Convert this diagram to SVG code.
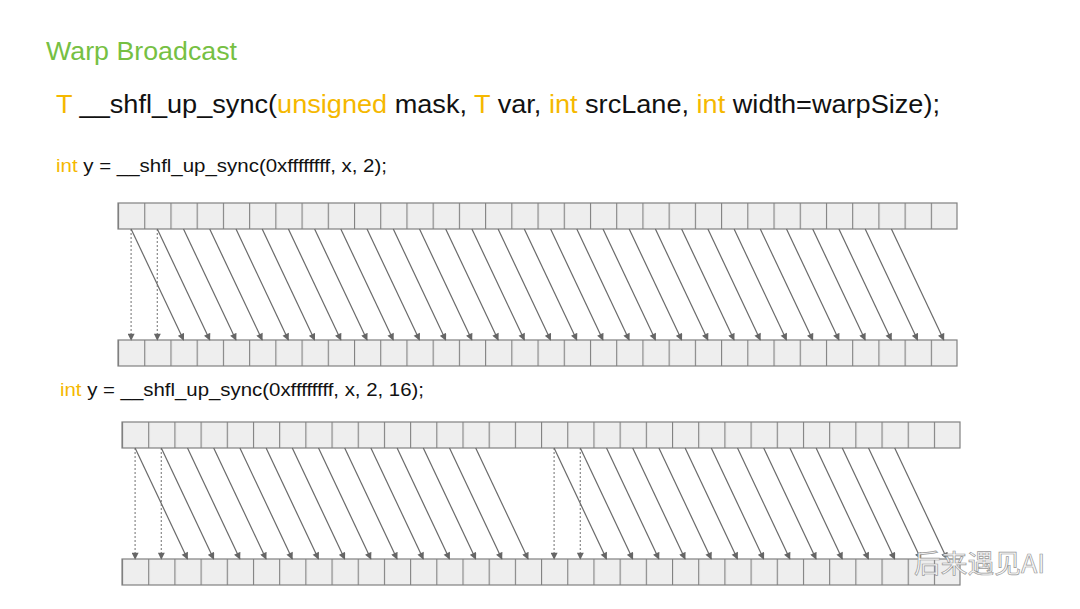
<svg xmlns="http://www.w3.org/2000/svg" width="1080" height="609" viewBox="0 0 1080 609">
<defs>
<marker id="ah" viewBox="0 0 10 10" refX="9" refY="5" markerWidth="8" markerHeight="7" markerUnits="userSpaceOnUse" orient="auto"><path d="M0,0 L10,5 L0,10 z" fill="#666"/></marker>
<pattern id="cellsA" x="118" y="0" width="26.22" height="609" patternUnits="userSpaceOnUse"><rect x="0" y="0" width="26.22" height="609" fill="#eeeeee"/><line x1="0.5" y1="0" x2="0.5" y2="609" stroke="#808080" stroke-width="1.2"/></pattern>
<pattern id="cellsB" x="122" y="0" width="26.19" height="609" patternUnits="userSpaceOnUse"><rect x="0" y="0" width="26.19" height="609" fill="#eeeeee"/><line x1="0.5" y1="0" x2="0.5" y2="609" stroke="#808080" stroke-width="1.2"/></pattern>
</defs>
<style>
.t{font-family:"Liberation Sans",Arial,sans-serif}
.k{fill:#f5b800}
.row{stroke:#808080;stroke-width:1.2}
#connectors line{stroke:#6a6a6a;stroke-width:1.2;marker-end:url(#ah)}
#connectors line.d{stroke:#888;stroke-dasharray:2,2}
</style>
<rect width="1080" height="609" fill="#fff"/>
<text class="t" x="46" y="60" font-size="25" fill="#76c043" textLength="191" lengthAdjust="spacingAndGlyphs">Warp Broadcast</text>
<text class="t" x="56" y="113" font-size="26" fill="#111" textLength="884" lengthAdjust="spacingAndGlyphs"><tspan class="k">T</tspan> __shfl_up_sync(<tspan class="k">unsigned</tspan> mask, <tspan class="k">T</tspan> var, <tspan class="k">int</tspan> srcLane, <tspan class="k">int</tspan> width=warpSize);</text>
<text class="t" x="56" y="172" font-size="18" fill="#111" textLength="331" lengthAdjust="spacingAndGlyphs"><tspan class="k">int</tspan> y = __shfl_up_sync(0xffffffff, x, 2);</text>
<text class="t" x="60" y="396" font-size="18" fill="#111" textLength="364" lengthAdjust="spacingAndGlyphs"><tspan class="k">int</tspan> y = __shfl_up_sync(0xffffffff, x, 2, 16);</text>
<g id="rowA1"><rect class="row" x="118" y="203" width="839" height="26" fill="url(#cellsA)"/></g>
<g id="rowA2"><rect class="row" x="118" y="340" width="839" height="26" fill="url(#cellsA)"/></g>
<g id="rowB1"><rect class="row" x="122" y="422" width="838" height="26" fill="url(#cellsB)"/></g>
<g id="rowB2"><rect class="row" x="122" y="559" width="838" height="26" fill="url(#cellsB)"/></g>
<g id="connectors">
<line class="d" x1="131.1" y1="229" x2="131.1" y2="340"/>
<line class="d" x1="157.3" y1="229" x2="157.3" y2="340"/>
<line x1="131.1" y1="229" x2="183.6" y2="340"/>
<line x1="157.3" y1="229" x2="209.8" y2="340"/>
<line x1="183.5" y1="229" x2="236" y2="340"/>
<line x1="209.7" y1="229" x2="262.2" y2="340"/>
<line x1="236" y1="229" x2="288.4" y2="340"/>
<line x1="262.2" y1="229" x2="314.6" y2="340"/>
<line x1="288.4" y1="229" x2="340.9" y2="340"/>
<line x1="314.6" y1="229" x2="367.1" y2="340"/>
<line x1="340.8" y1="229" x2="393.3" y2="340"/>
<line x1="367" y1="229" x2="419.5" y2="340"/>
<line x1="393.3" y1="229" x2="445.7" y2="340"/>
<line x1="419.5" y1="229" x2="471.9" y2="340"/>
<line x1="445.7" y1="229" x2="498.2" y2="340"/>
<line x1="471.9" y1="229" x2="524.4" y2="340"/>
<line x1="498.1" y1="229" x2="550.6" y2="340"/>
<line x1="524.3" y1="229" x2="576.8" y2="340"/>
<line x1="550.6" y1="229" x2="603" y2="340"/>
<line x1="576.8" y1="229" x2="629.2" y2="340"/>
<line x1="603" y1="229" x2="655.5" y2="340"/>
<line x1="629.2" y1="229" x2="681.7" y2="340"/>
<line x1="655.4" y1="229" x2="707.9" y2="340"/>
<line x1="681.6" y1="229" x2="734.1" y2="340"/>
<line x1="707.9" y1="229" x2="760.3" y2="340"/>
<line x1="734.1" y1="229" x2="786.5" y2="340"/>
<line x1="760.3" y1="229" x2="812.8" y2="340"/>
<line x1="786.5" y1="229" x2="839" y2="340"/>
<line x1="812.7" y1="229" x2="865.2" y2="340"/>
<line x1="838.9" y1="229" x2="891.4" y2="340"/>
<line x1="865.2" y1="229" x2="917.6" y2="340"/>
<line x1="891.4" y1="229" x2="943.8" y2="340"/>
<line class="d" x1="135.1" y1="448" x2="135.1" y2="559"/>
<line class="d" x1="161.3" y1="448" x2="161.3" y2="559"/>
<line class="d" x1="554.1" y1="448" x2="554.1" y2="559"/>
<line class="d" x1="580.3" y1="448" x2="580.3" y2="559"/>
<line x1="135.1" y1="448" x2="187.5" y2="559"/>
<line x1="161.3" y1="448" x2="213.7" y2="559"/>
<line x1="187.5" y1="448" x2="239.9" y2="559"/>
<line x1="213.7" y1="448" x2="266.1" y2="559"/>
<line x1="239.9" y1="448" x2="292.3" y2="559"/>
<line x1="266.1" y1="448" x2="318.5" y2="559"/>
<line x1="292.3" y1="448" x2="344.7" y2="559"/>
<line x1="318.5" y1="448" x2="370.9" y2="559"/>
<line x1="344.7" y1="448" x2="397.1" y2="559"/>
<line x1="370.9" y1="448" x2="423.3" y2="559"/>
<line x1="397.1" y1="448" x2="449.5" y2="559"/>
<line x1="423.3" y1="448" x2="475.7" y2="559"/>
<line x1="449.5" y1="448" x2="501.9" y2="559"/>
<line x1="475.7" y1="448" x2="528.1" y2="559"/>
<line x1="554.1" y1="448" x2="606.5" y2="559"/>
<line x1="580.3" y1="448" x2="632.7" y2="559"/>
<line x1="606.5" y1="448" x2="658.9" y2="559"/>
<line x1="632.7" y1="448" x2="685.1" y2="559"/>
<line x1="658.9" y1="448" x2="711.3" y2="559"/>
<line x1="685.1" y1="448" x2="737.5" y2="559"/>
<line x1="711.3" y1="448" x2="763.7" y2="559"/>
<line x1="737.5" y1="448" x2="789.9" y2="559"/>
<line x1="763.7" y1="448" x2="816.1" y2="559"/>
<line x1="789.9" y1="448" x2="842.3" y2="559"/>
<line x1="816.1" y1="448" x2="868.5" y2="559"/>
<line x1="842.3" y1="448" x2="894.7" y2="559"/>
<line x1="868.5" y1="448" x2="920.9" y2="559"/>
<line x1="894.7" y1="448" x2="947.1" y2="559"/>
</g>
<text x="914" y="573" font-family="'Noto Sans CJK SC',sans-serif" font-size="26" fill="#fafafa" stroke="#999" stroke-width="0.7" textLength="131" lengthAdjust="spacingAndGlyphs">后来遇见AI</text>
</svg>
